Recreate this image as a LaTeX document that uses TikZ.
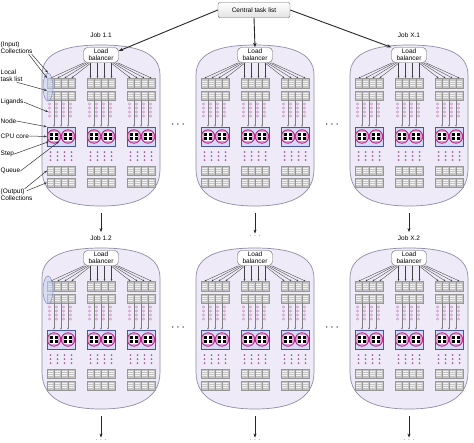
\documentclass[tikz,border=0pt]{standalone}
\usepackage{fontspec}
\setmainfont{Liberation Sans}
\usetikzlibrary{arrows.meta,shapes.geometric}
\definecolor{cylfill}{HTML}{EEEAF7}
\definecolor{cyldraw}{HTML}{8E8DA6}
\definecolor{cellfill}{HTML}{C4C4C4}
\definecolor{celldraw}{HTML}{979797}
\definecolor{ligcol}{HTML}{C47DBA}
\definecolor{nodefill}{HTML}{D3DAF2}
\definecolor{nodedraw}{HTML}{4A55A2}
\definecolor{corefill}{HTML}{D9A3D2}
\definecolor{coredraw}{HTML}{C0208C}
\definecolor{queuecol}{HTML}{A5629F}
\definecolor{ellfill}{HTML}{C9D3EE}

% one job: #1 = centre x, #2 = top y, #3 = name
\newcommand{\jobcyl}[3]{%
  \draw [cyl] (#1-59,#2+32) .. controls (#1-59,#2+8) and (#1-32,#2+2) .. (#1,#2+2)
     .. controls (#1+32,#2+2) and (#1+59,#2+8) .. (#1+59,#2+32) -- (#1+59,#2+126)
     .. controls (#1+59,#2+155) and (#1+32,#2+163) .. (#1,#2+163)
     .. controls (#1-32,#2+163) and (#1-59,#2+155) .. (#1-59,#2+126) -- cycle;
  \coordinate (#3-bot) at (#1,#2+170);
  \node [balancer] (#3-lb) at (#1,#2+12) {Load\\balancer};
  \foreach \g in {1,2,3} {
    \pgfmathsetmacro\grpx{#1+40*(\g-2)}
    \node [nodebox] (#3-nd\g) at (\grpx,#2+93.5) {};
    \node [core] (#3-cr\g-1) at (\grpx-7,#2+93.5) {};
    \node [core] (#3-cr\g-2) at (\grpx+7,#2+93.5) {};
    \foreach \k in {1,...,4} {
      \pgfmathsetmacro\colx{\grpx+7*\k-17.5}
      \pgfmathsetmacro\dx{\colx-#1}
      \pgfmathsetmacro\sx{ifthenelse(\g==2,\dx,0.33*\dx)}
      \node [cell] (#3-in\g\k) at (\colx,#2+40) {};
      \node [cell] (#3-tl\g\k) at (\colx,#2+52.5) {};
      \node [cell] (#3-oa\g\k) at (\colx,#2+127.5) {};
      \node [cell] (#3-ob\g\k) at (\colx,#2+139.5) {};
      \foreach \r in {0,...,3}
        \node [ligand] (#3-lg\g\k\r) at (\colx-1,#2+61+4*\r) {};
      \foreach \r in {0,1,2}
        \node [qdot] (#3-q\g\k\r) at (\colx,#2+109+4*\r) {};
      \draw [fan] ([xshift=\sx pt]#3-lb.south) -- (#3-in\g\k.north);
    }
    \foreach \k in {1,2,3}
      \draw [ligflow] ([xshift=3.5pt]#3-tl\g\k.south) -- ([xshift=3.5pt]#3-tl\g\k.south |- #3-nd\g.north);
  }
}

\begin{document}
\begin{tikzpicture}[x=1pt,y=-1pt,font=\fontsize{6.5}{7.2}\selectfont]
\tikzstyle{cyl} = [draw=cyldraw, fill=cylfill, line width=0.7]
\tikzstyle{balancer} = [draw=gray!80!black, fill=white, rounded corners=4, align=center,
                        minimum width=35, minimum height=15, inner sep=0.5]
\tikzstyle{central} = [draw=gray!80!black, top color=white, bottom color=gray!22,
                       rounded corners=2, minimum width=72, minimum height=15, inner sep=1]
\tikzstyle{cell} = [draw=celldraw, fill=cellfill, line width=0.3, minimum width=6.5,
                    minimum height=9.5, inner sep=0,
                    path picture={\foreach \h in {-2.2,0,2.2}
                      \draw [white!80!cellfill, line width=0.5]
                      ([shift={(1pt,\h pt)}]path picture bounding box.west) --
                      ([shift={(-1pt,\h pt)}]path picture bounding box.east);}]
\tikzstyle{ligand} = [draw=ligcol, circle, line width=0.3, minimum size=2.4, inner sep=0]
\tikzstyle{qdot} = [fill=queuecol, circle, minimum size=2, inner sep=0]
\tikzstyle{nodebox} = [draw=nodedraw, fill=nodefill, line width=0.6, minimum width=28,
                       minimum height=19, inner sep=0]
\tikzstyle{core} = [draw=coredraw, fill=corefill, circle, line width=0.8, minimum size=13.5,
                    inner sep=0,
                    path picture={\fill [white] ([shift={(-4.3pt,-4.3pt)}]path picture bounding box.center)
                      rectangle ([shift={(4.3pt,4.3pt)}]path picture bounding box.center);
                      \foreach \sx in {-1,1} \foreach \sy in {-1,1}
                      \fill [black] ([shift={(\sx*2.2pt-1.6pt,\sy*2.2pt-1.6pt)}]path picture bounding box.center)
                      rectangle ++(3.2pt,3.2pt);}]
\tikzstyle{hilite} = [draw=nodedraw!70, fill=ellfill, fill opacity=0.55, ellipse, line width=0.5,
                      minimum width=10, minimum height=28, inner sep=0]
\tikzstyle{fan} = [-{Stealth[length=2pt,width=1.6pt]}, line width=0.35, black!75]
\tikzstyle{ligflow} = [-{Stealth[length=2pt,width=2pt]}, line width=0.3, gray]
\tikzstyle{feed} = [-{Stealth[length=4.5pt,width=3.5pt]}, line width=0.9, black!85]
\tikzstyle{down} = [-{Stealth[length=4pt,width=3pt]}, line width=0.9, black!85]
\tikzstyle{note} = [-{Stealth[length=3pt,width=2.2pt]}, line width=0.5, black!80]
\tikzstyle{lbl} = [anchor=west, align=left, inner sep=0]
\tikzstyle{more} = [inner sep=0, font=\fontsize{13}{13}\selectfont]
\tikzstyle{fade} = [inner sep=0, gray!70, font=\fontsize{10}{10}\selectfont]
\useasboundingbox [fill=white] (0,0) rectangle (474,442);

\jobcyl{101}{43}{j11}
\jobcyl{255}{43}{jm1}
\jobcyl{409}{43}{jX1}
\jobcyl{101}{246}{j12}
\jobcyl{255}{246}{jm2}
\jobcyl{409}{246}{jX2}

\node [hilite] (sel1) at (48,87) {};
\node [hilite] (sel2) at (48,290) {};

\node [central] (ctl) at (254,10) {Central task list};
\draw [feed] (ctl.west) -- ([yshift=4pt]j11-lb.east);
\draw [feed] (ctl.south) -- (jm1-lb.north);
\draw [feed] (ctl.east) -- (jX1-lb.north west);

\node (job11) at (101,35) {Job 1.1};
\node (jobX1) at (409,35) {Job X.1};
\node (job12) at (101,238) {Job 1.2};
\node (jobX2) at (409,238) {Job X.2};
\node [fade] (midgap) at (255,236) {$\cdots$};
\draw [down] (j11-bot) -- (job12.north);
\draw [down] (jm1-bot) -- (midgap.north);
\draw [down] (jX1-bot) -- (jobX2.north);

\node [more] (gap11) at (178,125) {$\cdots$};
\node [more] (gap12) at (332,125) {$\cdots$};
\node [more] (gap21) at (178,328) {$\cdots$};
\node [more] (gap22) at (332,328) {$\cdots$};

\node [fade] (end1) at (101,440) {$\cdots$};
\node [fade] (end2) at (255,440) {$\cdots$};
\node [fade] (end3) at (409,440) {$\cdots$};
\draw [down] (j12-bot) -- (end1.north);
\draw [down] (jm2-bot) -- (end2.north);
\draw [down] (jX2-bot) -- (end3.north);

% labels on the left
\node [lbl] (inp) at (0.5,48) {(Input)\\Collections};
\node [lbl] (ltl) at (0.5,76) {Local\\task list};
\node [lbl] (lig) at (0.5,102) {Ligands};
\node [lbl] (nod) at (0.5,121) {Node};
\node [lbl] (cpu) at (0.5,136) {CPU core};
\node [lbl] (stp) at (0.5,154) {Step};
\node [lbl] (que) at (0.5,171) {Queue};
\node [lbl] (out) at (0.5,195) {(Output)\\Collections};
\draw [note] ([xshift=-4pt]inp.south east) -- (j11-in11.north west);
\draw [note] ([xshift=-1pt]inp.south east) -- (sel1.north);
\draw [note] ([xshift=-6pt]ltl.south east) -- (j11-tl11.north west);
\draw [note] (lig.east) -- (j11-lg112.west);
\draw [note] (nod.east) -- (j11-nd1.north west);
\draw [note] (cpu.east) -- (j11-cr1-1.west);
\draw [note] (stp.east) -- (j11-cr1-1.south west);
\draw [note] (que.east) -- (j11-cr1-1.south east);
\draw [note] ([xshift=-8pt]out.north east) -- (j11-oa11.west);
\draw [note] ([xshift=-6pt,yshift=-2pt]out.north east) -- (j11-ob11.west);
\end{tikzpicture}
\end{document}
